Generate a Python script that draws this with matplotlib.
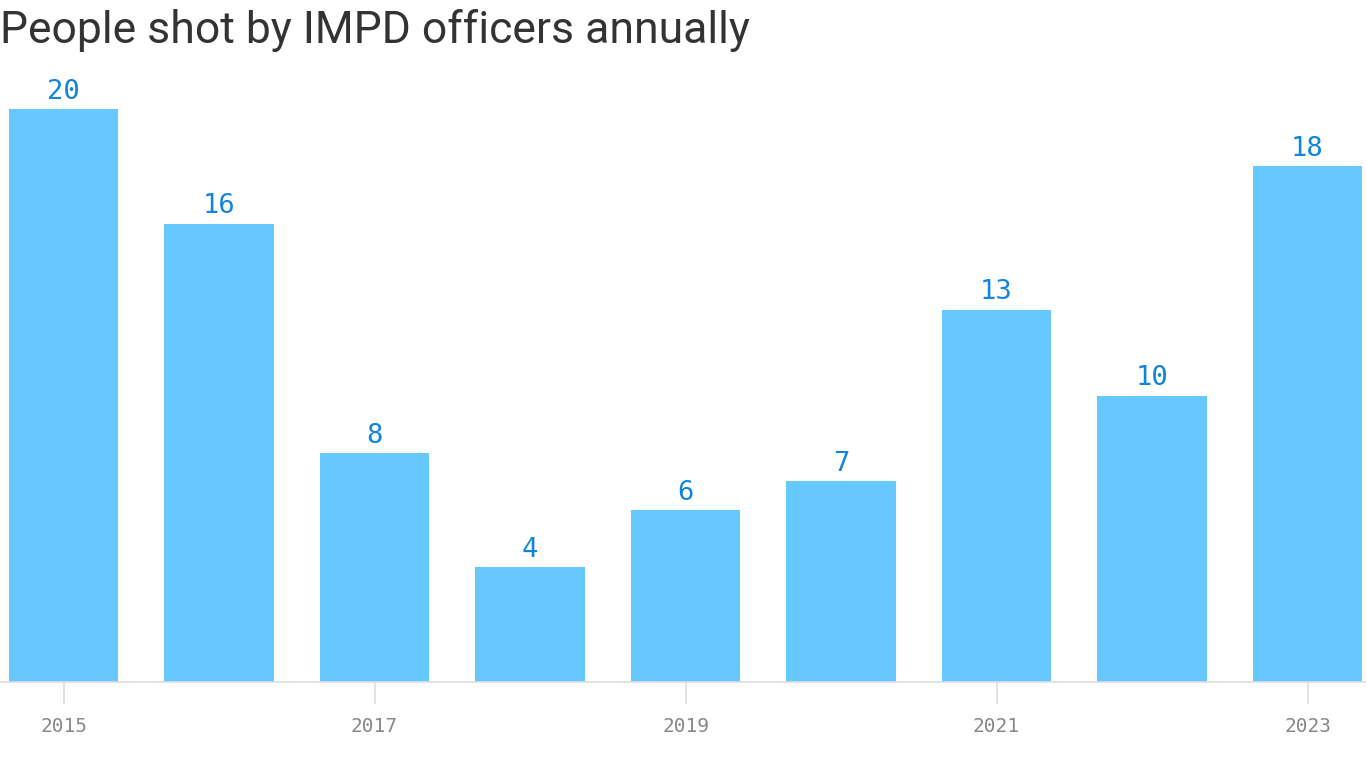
import matplotlib
matplotlib.use("Agg")
import matplotlib.pyplot as plt

years = [2015, 2016, 2017, 2018, 2019, 2020, 2021, 2022, 2023]
values = [20, 16, 8, 4, 6, 7, 13, 10, 18]
tick_years = [2015, 2017, 2019, 2021, 2023]

W, H = 1366, 768
fig = plt.figure(figsize=(W / 100, H / 100), dpi=100)
ax_bottom = 682
ax_top = 80
ax = fig.add_axes([0, (H - ax_bottom) / H, 1, (ax_bottom - ax_top) / H])

x = list(range(len(years)))
ax.bar(x, values, width=0.701, color="#66c8ff", zorder=2)
ax.set_xlim(-63.5 / 155.5, (W - 63.5) / 155.5)
ax.set_ylim(0, (ax_bottom - ax_top) / 28.65)

for xi, v in zip(x, values):
    ax.annotate(str(v), (xi, v), xytext=(0, 3), textcoords="offset points",
                ha="center", va="bottom", fontsize=19.5, color="#1184e0",
                family="DejaVu Sans Mono")

for s in ["top", "right", "left"]:
    ax.spines[s].set_visible(False)
ax.spines["bottom"].set_color("#dddddd")
ax.spines["bottom"].set_linewidth(1.2)
ax.set_yticks([])
ax.set_xticks([years.index(y) for y in tick_years])
ax.set_xticklabels([str(y) for y in tick_years], family="DejaVu Sans Mono",
                   fontsize=14, color="#888888")
ax.tick_params(axis="x", length=16, width=1.2, color="#dddddd", pad=9)

fig.text(0, 1 - 30 / H, "People shot by IMPD officers annually", ha="left",
         va="center", fontsize=32, color="#333333", family="Roboto")

fig.savefig("out.png", dpi=100)
